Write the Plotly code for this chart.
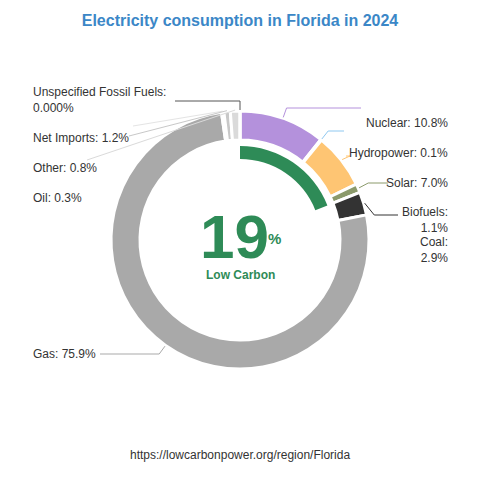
import math
import plotly.graph_objects as go

W, H = 480, 480
OFF = 8  # page body margin pushes the figure right/down

# data, clockwise from 12 o'clock
sources = ["Nuclear", "Hydropower", "Solar", "Biofuels", "Coal",
           "Gas", "Oil", "Other", "Net Imports", "Unspecified Fossil Fuels"]
shares = [10.8, 0.1, 7.0, 1.1, 2.9, 75.9, 0.3, 0.8, 1.2, 0.0]
share_text = ["10.8%", "0.1%", "7.0%", "1.1%", "2.9%",
              "75.9%", "0.3%", "0.8%", "1.2%", "0.000%"]
colors = ["#b491dc", "#8fc8f0", "#fec573", "#8b9a6b", "#333333",
          "#a9a9a9", "#e4e4e4", "#c8c8c8", "#dadada", "#555555"]
low_carbon = ["Nuclear", "Hydropower", "Solar", "Biofuels"]
low_carbon_pct = sum(s for n, s in zip(sources, shares) if n in low_carbon)

# label layout (pixels): side, y of label centre, end of leader line
label_side = ["r", "r", "r", "r", "r", "l", "l", "l", "l", "l"]
label_y = [123, 153, 183, 220, 250, 354, 198, 168, 138, 100]
wrap = [False, False, False, True, True, False, False, False, False, True]
leader_end = [(361, 108), (344, 131), (346, 156), (388, 183), (398, 215),
              (100, 354), (133, 126), (129, 136), (87, 160), (175, 101)]
leader_elbow = [True, True, True, True, True, True, False, False, False, True]

CX, CY = 240, 240
R_OUT, R_IN = 129, 100
G_OUT, G_IN = 94, 81


def paper(x, y):
    return (x - OFF) / W, 1 - (y - OFF) / H


fig = go.Figure()

x0, y1 = paper(CX - R_OUT, CY - R_OUT)
x1, y0 = paper(CX + R_OUT, CY + R_OUT)
fig.add_trace(go.Pie(
    values=shares, labels=sources, sort=False, direction="clockwise",
    rotation=0, hole=R_IN / R_OUT, textinfo="none", hoverinfo="skip",
    marker=dict(colors=colors, line=dict(color="white", width=3)),
    domain=dict(x=[x0, x1], y=[y0, y1]),
    showlegend=False,
))

x0, y1 = paper(CX - G_OUT, CY - G_OUT)
x1, y0 = paper(CX + G_OUT, CY + G_OUT)
fig.add_trace(go.Pie(
    values=[low_carbon_pct, 100 - low_carbon_pct], sort=False,
    direction="clockwise", rotation=0, hole=G_IN / G_OUT,
    textinfo="none", hoverinfo="skip",
    marker=dict(colors=["#2e8b57", "rgba(0,0,0,0)"], line=dict(width=0)),
    domain=dict(x=[x0, x1], y=[y0, y1]),
    showlegend=False,
))

# leader lines from slice middles
total = sum(shares)
cum = 0
shapes = []
for i, s in enumerate(shares):
    mid = (cum + s / 2) / total * 2 * math.pi
    cum += s
    sx, sy = CX + (R_OUT + 1) * math.sin(mid), CY - (R_OUT + 1) * math.cos(mid)
    ex, ey = leader_end[i]
    pts = [paper(sx, sy)]
    if leader_elbow[i]:
        pts.append(paper(CX + (R_OUT + 11) * math.sin(mid), ey))
    pts.append(paper(ex, ey))
    path = "M " + " L ".join("{} {}".format(px, py) for px, py in pts)
    shapes.append(dict(type="path", path=path, xref="paper", yref="paper",
                       line=dict(color=colors[i], width=1)))

annotations = []
for i, name in enumerate(sources):
    sep = ":<br>" if wrap[i] else ": "
    right = label_side[i] == "r"
    x, y = paper(450 if right else 31, label_y[i])
    annotations.append(dict(
        text=name + sep + share_text[i], x=x, y=y, xref="paper", yref="paper",
        xanchor="right" if right else "left", yanchor="middle",
        align="right" if right else "left", showarrow=False,
        font=dict(size=12, color="#333333")))

x, y = paper(234, 236)
annotations.append(dict(text="<b>%d</b>" % round(low_carbon_pct), x=x, y=y,
                        xref="paper", yref="paper", showarrow=False,
                        height=52, valign="middle",
                        font=dict(size=62, color="#2e8b57")))
x, y = paper(274, 238)
annotations.append(dict(text="<b>%</b>", x=x, y=y, xref="paper", yref="paper",
                        showarrow=False, font=dict(size=15, color="#2e8b57")))
x, y = paper(240, 275)
annotations.append(dict(text="<b>Low Carbon</b>", x=x, y=y, xref="paper",
                        yref="paper", showarrow=False,
                        font=dict(size=12, color="#2e8b57")))
x, y = paper(240, 464)
annotations.append(dict(text="https://lowcarbonpower.org/region/Florida",
                        x=x, y=y, xref="paper", yref="paper", showarrow=False,
                        font=dict(size=12, color="#333333")))

tx, ty = paper(240, 20)
fig.update_layout(
    width=W, height=H, margin=dict(l=0, r=0, t=0, b=0),
    paper_bgcolor="white", plot_bgcolor="white",
    font=dict(family="Liberation Sans, Arial, sans-serif"),
    title=dict(text="<b>Electricity consumption in Florida in 2024</b>",
               x=tx, xanchor="center", y=ty, yanchor="middle",
               font=dict(size=16, color="#3b87c7")),
    shapes=shapes, annotations=annotations,
)

fig.write_html("out.html")
